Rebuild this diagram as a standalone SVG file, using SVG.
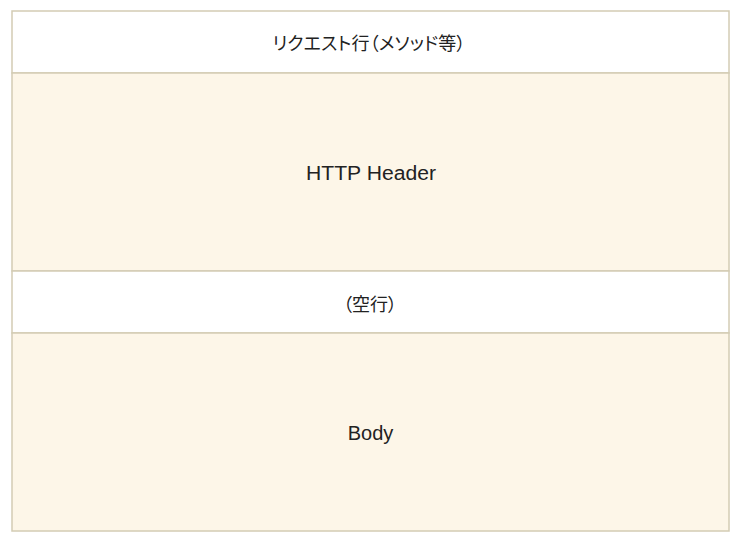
<svg xmlns="http://www.w3.org/2000/svg" width="750" height="550" viewBox="0 0 750 550">
<style>
.row{stroke:#d3ccb4;stroke-width:1.5}
.w{fill:#ffffff}
.b{fill:#fdf6e8}
.t{font-family:"Liberation Sans","Noto Sans CJK JP",Arial,sans-serif;font-size:20px;fill:#222222;text-anchor:middle}
.j{font-family:"Noto Sans CJK JP","Liberation Sans",sans-serif;font-size:18px;fill:#222222;text-anchor:middle;font-feature-settings:"palt" 1}
</style>
<rect width="750" height="550" fill="#ffffff"/>
<g id="request-line">
<rect class="row w" x="12" y="11" width="717" height="62"/>
<text class="j" x="369" y="50" textLength="193" lengthAdjust="spacing">リクエスト行（メソッド等）</text>
</g>
<g id="http-header">
<rect class="row b" x="12" y="73" width="717" height="198"/>
<text class="t" x="371" y="180" textLength="130" lengthAdjust="spacingAndGlyphs">HTTP Header</text>
</g>
<g id="blank-line">
<rect class="row w" x="12" y="271" width="717" height="62"/>
<text class="j" x="370" y="311" textLength="54" lengthAdjust="spacing">（空行）</text>
</g>
<g id="body">
<rect class="row b" x="12" y="333" width="717" height="198"/>
<text class="t" x="370.5" y="439.5">Body</text>
</g>
<g id="connectors"></g>
</svg>
